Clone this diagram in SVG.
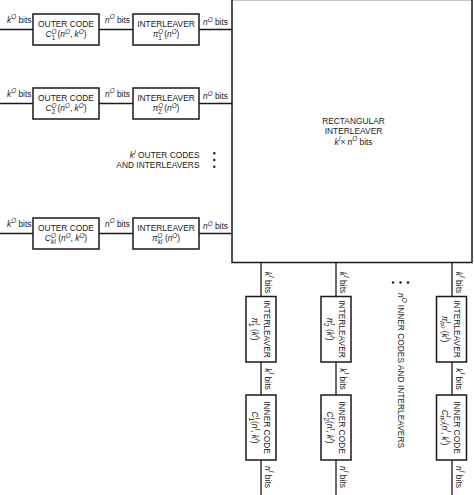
<svg xmlns="http://www.w3.org/2000/svg" width="474" height="495" viewBox="0 0 474 495">
<style>
.t{font-family:"Liberation Sans",Arial,sans-serif;font-size:8.4px;fill:#1a1a1a}
.i{font-style:italic}
.s{font-size:6.3px}
.ss{font-size:4.6px}
.box{fill:#fff;stroke:#1a1a1a;stroke-width:1.5}
.ln{stroke:#1a1a1a;stroke-width:1.3;fill:none}
.dot{fill:#1a1a1a}
</style>
<rect width="474" height="495" fill="#fff"/>
<g id="connectors">
<path class="ln" d="M0 29.5H33M99 29.5H133M199 29.5H232"/>
<path class="ln" d="M0 103.5H33M99 103.5H133M199 103.5H232"/>
<path class="ln" d="M0 233.5H33M99 233.5H133M199 233.5H232"/>
<path class="ln" d="M261 262.5V296.5M261 362V395M261 460V495"/>
<path class="ln" d="M336 262.5V296.5M336 362V395M336 460V495"/>
<path class="ln" d="M452 262.5V296.5M452 362V395M452 460V495"/>
</g>
<g id="edge-labels" class="t">
<text x="7" y="22.5"><tspan class="i">k</tspan><tspan class="s i" dy="-3.5">O</tspan><tspan dy="3.5"> bits</tspan></text>
<text x="105" y="22.5"><tspan class="i">n</tspan><tspan class="s i" dy="-3.5">O</tspan><tspan dy="3.5"> bits</tspan></text>
<text x="203" y="25"><tspan class="i">n</tspan><tspan class="s i" dy="-3.5">O</tspan><tspan dy="3.5"> bits</tspan></text>
<text x="7" y="96.5"><tspan class="i">k</tspan><tspan class="s i" dy="-3.5">O</tspan><tspan dy="3.5"> bits</tspan></text>
<text x="105" y="96.5"><tspan class="i">n</tspan><tspan class="s i" dy="-3.5">O</tspan><tspan dy="3.5"> bits</tspan></text>
<text x="203" y="99"><tspan class="i">n</tspan><tspan class="s i" dy="-3.5">O</tspan><tspan dy="3.5"> bits</tspan></text>
<text x="7" y="226.5"><tspan class="i">k</tspan><tspan class="s i" dy="-3.5">O</tspan><tspan dy="3.5"> bits</tspan></text>
<text x="105" y="226.5"><tspan class="i">n</tspan><tspan class="s i" dy="-3.5">O</tspan><tspan dy="3.5"> bits</tspan></text>
<text x="203" y="229"><tspan class="i">n</tspan><tspan class="s i" dy="-3.5">O</tspan><tspan dy="3.5"> bits</tspan></text>
<g text-anchor="middle">
<text transform="translate(261,282.5) rotate(90)" y="-4"><tspan class="i">k</tspan><tspan class="s i" dy="-3.5">I</tspan><tspan dy="3.5"> bits</tspan></text>
<text transform="translate(261,379) rotate(90)" y="-4"><tspan class="i">k</tspan><tspan class="s i" dy="-3.5">I</tspan><tspan dy="3.5"> bits</tspan></text>
<text transform="translate(261,477) rotate(90)" y="-4"><tspan class="i">n</tspan><tspan class="s i" dy="-3.5">I</tspan><tspan dy="3.5"> bits</tspan></text>
<text transform="translate(336,282.5) rotate(90)" y="-4"><tspan class="i">k</tspan><tspan class="s i" dy="-3.5">I</tspan><tspan dy="3.5"> bits</tspan></text>
<text transform="translate(336,379) rotate(90)" y="-4"><tspan class="i">k</tspan><tspan class="s i" dy="-3.5">I</tspan><tspan dy="3.5"> bits</tspan></text>
<text transform="translate(336,477) rotate(90)" y="-4"><tspan class="i">n</tspan><tspan class="s i" dy="-3.5">I</tspan><tspan dy="3.5"> bits</tspan></text>
<text transform="translate(452,282.5) rotate(90)" y="-4"><tspan class="i">k</tspan><tspan class="s i" dy="-3.5">I</tspan><tspan dy="3.5"> bits</tspan></text>
<text transform="translate(452,379) rotate(90)" y="-4"><tspan class="i">k</tspan><tspan class="s i" dy="-3.5">I</tspan><tspan dy="3.5"> bits</tspan></text>
<text transform="translate(452,477) rotate(90)" y="-4"><tspan class="i">n</tspan><tspan class="s i" dy="-3.5">I</tspan><tspan dy="3.5"> bits</tspan></text>
</g>
</g>
<g id="rectangular-interleaver">
<rect class="box" x="232" y="-0.5" width="240" height="263"/>
<text class="t" text-anchor="middle" x="353.5" y="124">RECTANGULAR</text>
<text class="t" text-anchor="middle" x="353.5" y="134">INTERLEAVER</text>
<text class="t" text-anchor="middle" x="353.5" y="144.5"><tspan class="i">k</tspan><tspan class="s i" dy="-3.5">I</tspan><tspan dy="3.5">× </tspan><tspan class="i">n</tspan><tspan class="s i" dy="-3.5">O</tspan><tspan dy="3.5"> bits</tspan></text>
</g>
<g id="outer-code-1">
<rect class="box" x="33" y="14" width="66" height="31"/>
<text class="t" text-anchor="middle" x="66" y="27">OUTER CODE</text>
<text class="t" text-anchor="middle" x="66" y="37"><tspan class="i">C</tspan><tspan class="s i" dy="-3.5">O</tspan><tspan class="s" dx="-4.8" dy="6">1</tspan><tspan dy="-2.5"> (</tspan><tspan class="i">n</tspan><tspan class="s i" dy="-3.5">O</tspan><tspan dy="3.5">, </tspan><tspan class="i">k</tspan><tspan class="s i" dy="-3.5">O</tspan><tspan dy="3.5">)</tspan></text>
</g>
<g id="interleaver-1">
<rect class="box" x="133" y="14" width="66" height="31"/>
<text class="t" text-anchor="middle" x="166" y="27">INTERLEAVER</text>
<text class="t" text-anchor="middle" x="166" y="37"><tspan class="i">π</tspan><tspan class="s i" dy="-3.5">O</tspan><tspan class="s" dx="-4.8" dy="6">1</tspan><tspan dy="-2.5"> (</tspan><tspan class="i">n</tspan><tspan class="s i" dy="-3.5">O</tspan><tspan dy="3.5">)</tspan></text>
</g>
<g id="outer-code-2">
<rect class="box" x="33" y="88" width="66" height="31"/>
<text class="t" text-anchor="middle" x="66" y="101">OUTER CODE</text>
<text class="t" text-anchor="middle" x="66" y="111"><tspan class="i">C</tspan><tspan class="s i" dy="-3.5">O</tspan><tspan class="s" dx="-4.8" dy="6">2</tspan><tspan dy="-2.5"> (</tspan><tspan class="i">n</tspan><tspan class="s i" dy="-3.5">O</tspan><tspan dy="3.5">, </tspan><tspan class="i">k</tspan><tspan class="s i" dy="-3.5">O</tspan><tspan dy="3.5">)</tspan></text>
</g>
<g id="interleaver-2">
<rect class="box" x="133" y="88" width="66" height="31"/>
<text class="t" text-anchor="middle" x="166" y="101">INTERLEAVER</text>
<text class="t" text-anchor="middle" x="166" y="111"><tspan class="i">π</tspan><tspan class="s i" dy="-3.5">O</tspan><tspan class="s" dx="-4.8" dy="6">2</tspan><tspan dy="-2.5"> (</tspan><tspan class="i">n</tspan><tspan class="s i" dy="-3.5">O</tspan><tspan dy="3.5">)</tspan></text>
</g>
<g id="outer-code-kI">
<rect class="box" x="33" y="218" width="66" height="31"/>
<text class="t" text-anchor="middle" x="66" y="231">OUTER CODE</text>
<text class="t" text-anchor="middle" x="66" y="241"><tspan class="i">C</tspan><tspan class="s i" dy="-3.5">O</tspan><tspan class="s i" dx="-4.8" dy="6">kI</tspan><tspan dy="-2.5"> (</tspan><tspan class="i">n</tspan><tspan class="s i" dy="-3.5">O</tspan><tspan dy="3.5">, </tspan><tspan class="i">k</tspan><tspan class="s i" dy="-3.5">O</tspan><tspan dy="3.5">)</tspan></text>
</g>
<g id="interleaver-kI">
<rect class="box" x="133" y="218" width="66" height="31"/>
<text class="t" text-anchor="middle" x="166" y="231">INTERLEAVER</text>
<text class="t" text-anchor="middle" x="166" y="241"><tspan class="i">π</tspan><tspan class="s i" dy="-3.5">O</tspan><tspan class="s i" dx="-4.8" dy="6">kI</tspan><tspan dy="-2.5"> (</tspan><tspan class="i">n</tspan><tspan class="s i" dy="-3.5">O</tspan><tspan dy="3.5">)</tspan></text>
</g>
<g id="outer-ellipsis">
<text class="t" text-anchor="end" x="199.5" y="158"><tspan class="i">k</tspan><tspan class="s i" dy="-3.5">I</tspan><tspan dy="3.5"> OUTER CODES</tspan></text>
<text class="t" text-anchor="end" x="199.5" y="168">AND INTERLEAVERS</text>
<circle class="dot" cx="214.3" cy="153.3" r="1.2"/>
<circle class="dot" cx="214.3" cy="160" r="1.2"/>
<circle class="dot" cx="214.3" cy="166.7" r="1.2"/>
</g>
<g id="inner-interleaver-1">
<rect class="box" x="246" y="296.5" width="30" height="65.5"/>
<g transform="translate(261,329) rotate(90)" class="t" text-anchor="middle">
<text y="-2.5">INTERLEAVER</text>
<text y="9.5"><tspan class="i">π</tspan><tspan class="s i" dy="-3.5">I</tspan><tspan class="s" dx="-1.8" dy="6">1</tspan><tspan dy="-2.5"> (</tspan><tspan class="i">k</tspan><tspan class="s i" dy="-3.5">I</tspan><tspan dy="3.5">)</tspan></text>
</g>
</g>
<g id="inner-code-1">
<rect class="box" x="246" y="395" width="30" height="65"/>
<g transform="translate(261,427.5) rotate(90)" class="t" text-anchor="middle">
<text y="-2.5">INNER CODE</text>
<text y="9.5"><tspan class="i">C</tspan><tspan class="s i" dy="-3.5">I</tspan><tspan class="s" dx="-1.8" dy="6">1</tspan><tspan dy="-2.5">(</tspan><tspan class="i">n</tspan><tspan class="s i" dy="-3.5">I</tspan><tspan dy="3.5">, </tspan><tspan class="i">k</tspan><tspan class="s i" dy="-3.5">I</tspan><tspan dy="3.5">)</tspan></text>
</g>
</g>
<g id="inner-interleaver-2">
<rect class="box" x="321" y="296.5" width="30" height="65.5"/>
<g transform="translate(336,329) rotate(90)" class="t" text-anchor="middle">
<text y="-2.5">INTERLEAVER</text>
<text y="9.5"><tspan class="i">π</tspan><tspan class="s i" dy="-3.5">I</tspan><tspan class="s" dx="-1.8" dy="6">2</tspan><tspan dy="-2.5"> (</tspan><tspan class="i">k</tspan><tspan class="s i" dy="-3.5">I</tspan><tspan dy="3.5">)</tspan></text>
</g>
</g>
<g id="inner-code-2">
<rect class="box" x="321" y="395" width="30" height="65"/>
<g transform="translate(336,427.5) rotate(90)" class="t" text-anchor="middle">
<text y="-2.5">INNER CODE</text>
<text y="9.5"><tspan class="i">C</tspan><tspan class="s i" dy="-3.5">I</tspan><tspan class="s" dx="-1.8" dy="6">2</tspan><tspan dy="-2.5">(</tspan><tspan class="i">n</tspan><tspan class="s i" dy="-3.5">I</tspan><tspan dy="3.5">, </tspan><tspan class="i">k</tspan><tspan class="s i" dy="-3.5">I</tspan><tspan dy="3.5">)</tspan></text>
</g>
</g>
<g id="inner-interleaver-nO">
<rect class="box" x="436.5" y="296.5" width="30" height="65.5"/>
<g transform="translate(451.5,329) rotate(90)" class="t" text-anchor="middle">
<text y="-2.5">INTERLEAVER</text>
<text y="9.5"><tspan class="i">π</tspan><tspan class="s i" dy="-3.5">I</tspan><tspan class="s i" dx="-1.8" dy="6">n</tspan><tspan class="ss i" dy="-1.5">O</tspan><tspan dy="-1"> (</tspan><tspan class="i">k</tspan><tspan class="s i" dy="-3.5">I</tspan><tspan dy="3.5">)</tspan></text>
</g>
</g>
<g id="inner-code-nO">
<rect class="box" x="436.5" y="395" width="30" height="65"/>
<g transform="translate(451.5,427.5) rotate(90)" class="t" text-anchor="middle">
<text y="-2.5">INNER CODE</text>
<text y="9.5"><tspan class="i">C</tspan><tspan class="s i" dy="-3.5">I</tspan><tspan class="s i" dx="-1.8" dy="6">n</tspan><tspan class="ss i" dy="-1.5">O</tspan><tspan dy="-1">(</tspan><tspan class="i">n</tspan><tspan class="s i" dy="-3.5">I</tspan><tspan dy="3.5">, </tspan><tspan class="i">k</tspan><tspan class="s i" dy="-3.5">I</tspan><tspan dy="3.5">)</tspan></text>
</g>
</g>
<g id="inner-ellipsis">
<circle class="dot" cx="393" cy="282.5" r="1.2"/>
<circle class="dot" cx="400.5" cy="282.5" r="1.2"/>
<circle class="dot" cx="408" cy="282.5" r="1.2"/>
<text class="t" text-anchor="middle" transform="translate(401,370.5) rotate(90)" y="3"><tspan class="i">n</tspan><tspan class="s i" dy="-3.5">O</tspan><tspan dy="3.5"> INNER CODES AND INTERLEAVERS</tspan></text>
</g>
</svg>
